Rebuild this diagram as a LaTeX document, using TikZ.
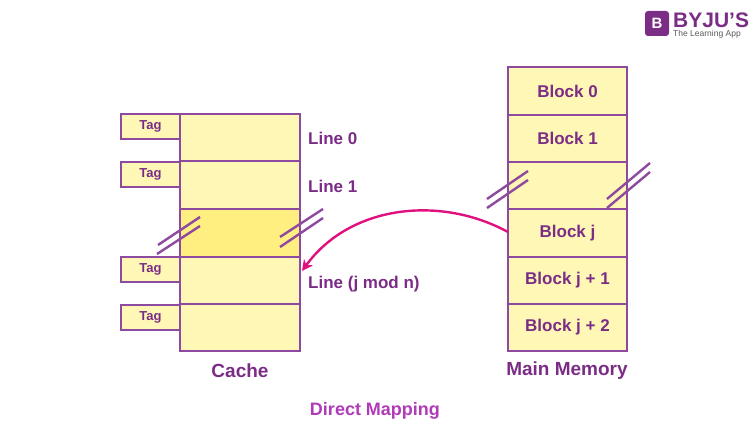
\documentclass[tikz,border=0pt]{standalone}
\usepackage{fontspec}
\usetikzlibrary{arrows.meta}
\setmainfont{Liberation Sans}
\definecolor{bd}{HTML}{8E4A9E}
\definecolor{tx}{HTML}{7B2D86}
\definecolor{fl}{HTML}{FFF7B5}
\definecolor{hl}{HTML}{FFEE80}
\definecolor{mg}{HTML}{E0117F}
\definecolor{tt}{HTML}{B03AB8}
\begin{document}
\begin{tikzpicture}[x=1pt,y=-1pt,
 cell/.style={draw=bd,fill=fl,line width=1.6pt},
 lbl/.style={text=tx,font=\bfseries\fontsize{17}{19}\selectfont,anchor=west,inner sep=0},
 tag/.style={text=tx,font=\bfseries\fontsize{13}{15}\selectfont},
 sl/.style={draw=bd,line width=2.4pt}]
\useasboundingbox (0,0) rectangle (750,444);
% cache
\draw[cell] (180,114) rectangle (300,161);
\draw[cell] (180,161) rectangle (300,209);
\draw[cell,fill=hl] (180,209) rectangle (300,257);
\draw[cell] (180,257) rectangle (300,304);
\draw[cell] (180,304) rectangle (300,351);
\foreach \y/\n in {114/a,162/b,257/c,305/d}{
 \draw[cell] (121,\y) rectangle (180,\y+25);
 \node[tag] (t\n) at (150.5,\y+12.5) {Tag};}
\node[lbl] (l0) at (308,138) {Line 0};
\node[lbl] (l1) at (308,186) {Line 1};
\node[lbl] (lj) at (308,284) {Line (j mod n)};
\draw[sl] (158,245)--(200,217) (157,254)--(200,226);
\draw[sl] (280,237)--(323,209) (280,247)--(323,218);
% memory
\foreach \a/\b/\t/\n in {67/115/Block 0/m0,115/162/Block 1/m1,162/209//m2,209/257/Block j/mj,257/304/Block j + 1/mj1,304/351/Block j + 2/mj2}{
 \draw[cell] (508,\a) rectangle (627,\b);
 \node[text=tx,font=\bfseries\fontsize{17}{19}\selectfont] (\n) at (567.5,{(\a+\b)/2}) {\t};}
\draw[sl] (487,199)--(528,171) (487,208)--(528,180);
\draw[sl] (607,199)--(650,163) (607,208)--(650,172);
\coordinate (as) at (508,232);
\coordinate (ae) at (302,271);
\draw[mg,line width=2.4pt,-{Stealth[length=11pt,width=11pt]}] (as) .. controls (440,195) and (350,205) .. (ae);
\node[text=tx,font=\bfseries\fontsize{19}{21}\selectfont] (c) at (240,371) {Cache};
\node[text=tx,font=\bfseries\fontsize{19}{21}\selectfont] (mm) at (567,371) {Main Memory};
\node[text=tt,font=\bfseries\fontsize{18}{20}\selectfont] (dm) at (375,411) {Direct Mapping};
% logo
\fill[tx,rounded corners=3pt] (645,11) rectangle (669,36);
\node[text=white,font=\bfseries\fontsize{15}{17}\selectfont] (bl) at (657,23.5) {B};
\node[text=tx,font=\bfseries\fontsize{21}{23}\selectfont,anchor=west,inner sep=0] (by) at (673,20) {BYJU'S};
\node[text=gray!70!black,font=\fontsize{8.5}{10}\selectfont,anchor=west,inner sep=0] (la) at (673,34) {The Learning App};
\end{tikzpicture}
\end{document}
